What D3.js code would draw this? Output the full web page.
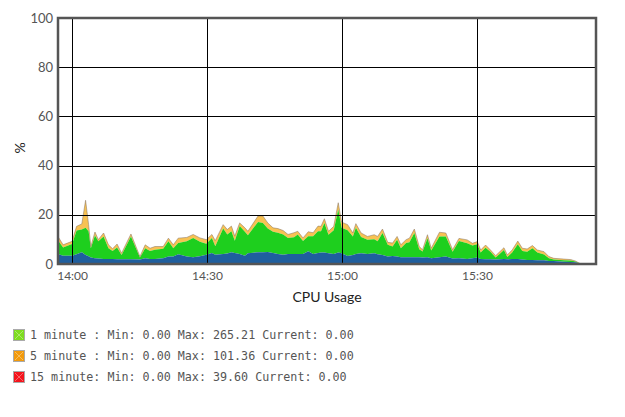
<!DOCTYPE html>
<html><head><meta charset="utf-8">
<script src="https://cdn.jsdelivr.net/npm/d3@7"></script>
<style>
html,body{margin:0;padding:0;background:#fff;}
svg{display:block;}
</style></head>
<body><svg id="c" width="625" height="417"></svg>
<script>
// sample times
const times = ["13:57:00","13:58:00","14:00:00","14:01:00","14:02:10","14:03:00","14:03:40","14:04:10","14:05:05","14:05:50",
"14:07:00","14:08:05","14:09:00","14:10:00","14:11:00","14:13:05","14:15:05","14:16:15","14:17:20","14:18:25",
"14:20:15","14:21:25","14:22:30","14:23:35","14:25:30","14:26:55","14:28:25","14:29:50","14:31:05","14:31:50",
"14:33:35","14:34:30","14:35:25","14:36:10","14:37:15","14:38:25","14:39:05","14:41:20","14:42:25","14:43:30",
"14:44:40","14:45:45","14:46:55","14:48:00","14:49:20","14:50:10","14:51:20","14:52:30","14:53:35","14:54:40",
"14:55:20","14:56:05","14:57:00","14:58:10","14:59:10","14:59:55","15:01:15","15:02:25","15:03:05","15:04:15",
"15:05:40","15:07:10","15:07:55","15:09:00","15:10:10","15:11:15","15:12:15","15:13:05","15:14:15","15:15:00",
"15:16:05","15:17:10","15:17:55","15:19:00","15:19:50","15:21:40","15:23:05","15:24:35","15:26:00","15:27:50",
"15:29:00","15:30:05","15:30:50","15:31:55","15:33:00","15:34:10","15:36:00","15:36:45","15:37:50","15:39:05",
"15:40:05","15:41:10","15:42:20","15:43:25","15:44:55","15:46:00","15:47:05","15:49:20","15:50:50","15:51:55",
"15:52:55","15:53:35"];
// cumulative top of the blue layer
const blueTop = [4.0,3.4,3.4,4.0,4.8,3.7,3.2,2.6,2.3,2.2,
2.0,2.0,2.0,1.9,1.9,1.9,1.8,2.3,2.0,2.0,
2.3,3.0,3.0,4.0,3.0,2.7,3.1,3.8,4.5,3.8,
4.1,4.3,4.8,4.5,4.1,3.4,4.4,4.8,4.8,4.9,
4.5,4.1,3.8,4.1,4.1,4.1,4.1,5.2,4.1,4.5,
4.7,4.7,4.4,4.1,4.7,4.4,3.3,3.7,4.1,4.4,
4.1,4.4,4.0,3.7,3.0,3.3,3.0,2.7,2.7,2.7,
2.7,2.7,2.6,2.7,2.3,2.7,3.0,2.2,2.3,2.0,
2.3,2.6,2.0,1.9,1.9,1.8,2.0,1.9,2.0,2.0,
1.8,1.6,1.6,1.5,1.5,1.2,1.2,0.9,0.8,0.7,
0.1,0];
// cumulative top of the green layer
const greenTop = [9.2,6.7,8.1,13.6,14.0,14.7,13.3,6.4,11.6,9.2,
11.2,6.4,5.3,6.7,3.7,11.2,2.6,6.4,5.3,5.8,
6.2,9.2,6.4,8.5,9.2,10.6,9.0,8.2,10.6,7.2,
14.4,12.0,13.3,9.5,15.4,13.1,11.7,17.1,16.7,14.4,
13.1,12.7,12.0,10.6,10.9,12.0,9.3,11.3,11.3,13.3,
13.3,16.7,11.9,13.7,22.2,14.7,13.7,11.2,14.7,11.0,
9.9,10.1,9.2,12.6,7.8,7.1,9.9,6.4,8.5,8.8,
12.6,6.0,5.1,10.5,5.5,11.2,11.2,5.0,9.3,8.4,
7.5,8.0,4.7,6.6,5.0,2.6,5.7,2.8,4.7,8.0,
5.3,5.0,6.4,4.7,3.9,2.3,1.8,1.5,1.4,1.0,
0.2,0];
// cumulative top of the orange layer
const orangeTop = [10.8,7.8,9.2,15.3,16.3,25.9,16.0,7.1,13.0,9.9,
12.6,7.8,6.2,8.1,4.4,12.2,3.0,7.8,6.4,7.1,
7.1,10.5,7.8,10.5,10.8,12.0,10.6,9.9,12.0,9.5,
16.0,14.0,15.4,11.3,16.7,14.7,13.3,19.5,19.5,16.7,
14.7,14.4,13.6,12.0,12.7,13.3,10.6,13.1,12.7,15.4,
15.3,18.4,13.3,15.3,24.9,17.0,16.0,12.6,16.4,12.6,
11.2,11.9,11.2,14.2,8.8,8.5,11.2,7.8,9.9,10.5,
14.2,7.1,5.8,11.9,6.4,12.9,12.6,5.8,10.4,9.8,
8.4,9.1,5.7,7.7,5.7,3.4,6.6,3.7,5.7,9.3,
6.4,6.1,7.5,5.7,5.0,3.0,2.3,2.0,1.8,1.2,
0.2,0];
const yTicks = [0,20,40,60,80,100];
const xTicks = ["14:00","14:30","15:00","15:30"];
const legendLabels = ["1 minute : Min: 0.00 Max: 265.21 Current: 0.00",
                      "5 minute : Min: 0.00 Max: 101.36 Current: 0.00",
                      "15 minute: Min: 0.00 Max: 39.60 Current: 0.00"];
const legendColors = ["#7edc1e","#f29a0c","#f4141c"];

const parse = d3.timeParse("%H:%M:%S");
const data = times.map((t,i)=>({t:parse(t), b:blueTop[i], g:greenTop[i], o:orangeTop[i]}));

const svg = d3.select("#c");
const L=58, R=596, T=18, B=264;
const x = d3.scaleTime().domain([parse("13:56:52"), parse("15:56:28")]).range([L,R]);
const y = d3.scaleLinear().domain([0,100]).range([B,T]);

const area = (lo,hi)=>d3.area().x(d=>x(d.t)).y0(d=>lo?y(d[lo]):y(0)).y1(d=>y(d[hi]));
svg.append("path").datum(data).attr("fill","#f8c253").attr("d",area("g","o"));
svg.append("path").datum(data).attr("fill","#1ecf1e").attr("d",area("b","g"));
svg.append("path").datum(data).attr("fill","#1f5f9e").attr("d",area(null,"b"));
svg.append("path").datum(data).attr("fill","none").attr("stroke","rgba(140,120,100,0.55)").attr("stroke-width",1)
  .attr("d",d3.line().x(d=>x(d.t)).y(d=>y(d.o)));

// grid
const g = svg.append("g");
g.selectAll("line.h").data(yTicks.filter(v=>v>0&&v<100)).join("line")
  .attr("x1",L).attr("x2",R).attr("y1",d=>Math.round(y(d))+0.5).attr("y2",d=>Math.round(y(d))+0.5)
  .attr("stroke","#000").attr("stroke-width",1);
const tp = d3.timeParse("%H:%M");
g.selectAll("line.v").data(xTicks).join("line")
  .attr("y1",T).attr("y2",B).attr("x1",d=>Math.round(x(tp(d)))+0.5).attr("x2",d=>Math.round(x(tp(d)))+0.5)
  .attr("stroke","#000").attr("stroke-width",1);

// frame
svg.append("rect").attr("x",L).attr("y",T).attr("width",R-L).attr("height",B-T)
  .attr("fill","none").attr("stroke","#555").attr("stroke-width",2.5);

// axes
const ya = svg.append("g").attr("transform",`translate(${L-2},0)`)
  .call(d3.axisLeft(y).tickValues(yTicks).tickSize(0).tickPadding(3));
ya.select(".domain").remove();
ya.selectAll("text").attr("font-family","Lato").attr("font-size",13).attr("fill","#555");
const xa = svg.append("g").attr("transform",`translate(0,${B+2})`)
  .call(d3.axisBottom(x).tickValues(xTicks.map(tp)).tickFormat(d3.timeFormat("%H:%M")).tickSize(0).tickPadding(5));
xa.select(".domain").remove();
xa.selectAll("text").attr("font-family","Lato").attr("font-size",12).attr("fill","#555");

svg.append("text").attr("transform","translate(25,148) rotate(-90)").attr("text-anchor","middle")
  .attr("font-family","Lato").attr("font-size",14).attr("fill","#222").text("%");
svg.append("text").attr("x",327).attr("y",302).attr("text-anchor","middle")
  .attr("font-family","Lato").attr("font-size",14).attr("fill","#222").text("CPU Usage");

// legend
const lg = svg.append("g");
legendLabels.forEach((lab,i)=>{
  const yy = 329 + i*21;
  lg.append("rect").attr("x",13.5).attr("y",yy+0.5).attr("width",11).attr("height",11)
    .attr("fill",legendColors[i]).attr("stroke","#aaa");
  lg.append("path").attr("d",`M15,${yy+2}L23,${yy+10}M23,${yy+2}L15,${yy+10}`)
    .attr("stroke","rgba(255,255,255,0.35)").attr("stroke-width",1);
  lg.append("text").attr("x",30).attr("y",yy+10).attr("font-family","DejaVu Sans Mono")
    .attr("font-size",11.7).attr("fill","#555").text(lab);
});
</script></body></html>
